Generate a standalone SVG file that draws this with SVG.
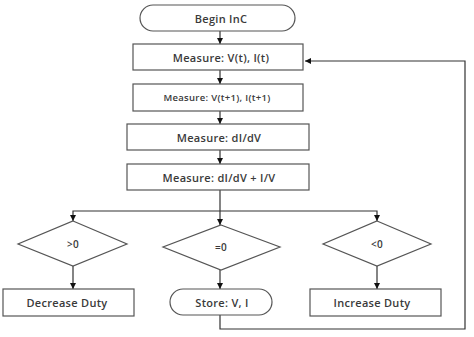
<svg xmlns="http://www.w3.org/2000/svg" width="474" height="337" viewBox="0 0 474 337">
<defs>
<marker id="ah" markerWidth="6" markerHeight="6" refX="6" refY="3" orient="auto" markerUnits="userSpaceOnUse">
<path d="M0,0 L6,3 L0,6 Z" fill="#111"/>
</marker>
<style>
.shape{fill:#fff;stroke:#555;stroke-width:1.2}
.t{font-family:"Open Sans","Liberation Sans",sans-serif;font-weight:600;fill:#3a3a3a;text-anchor:middle;dominant-baseline:central;letter-spacing:0.3px}
.c{fill:none;stroke:#333;stroke-width:1.2}
</style>
</defs>
<rect width="474" height="337" fill="#fff"/>
<g id="connectors">
<path class="c" d="M220,31 V44" marker-end="url(#ah)"/>
<path class="c" d="M220,70 V84" marker-end="url(#ah)"/>
<path class="c" d="M220,111 V124" marker-end="url(#ah)"/>
<path class="c" d="M220,150 V164" marker-end="url(#ah)"/>
<path class="c" d="M220,190 V225" marker-end="url(#ah)"/>
<path class="c" d="M220,211 H73 V221" marker-end="url(#ah)"/>
<path class="c" d="M220,211 H377 V221" marker-end="url(#ah)"/>
<path class="c" d="M73,266 V289" marker-end="url(#ah)"/>
<path class="c" d="M220,270 V289" marker-end="url(#ah)"/>
<path class="c" d="M377,266 V289" marker-end="url(#ah)"/>
<path class="c" d="M220,315 V329 H465 V61 H305" marker-end="url(#ah)"/>
</g>
<g id="begin">
<rect class="shape" x="140" y="5" width="155" height="26" rx="13"/>
<text class="t" x="221" y="18" font-size="11">Begin InC</text>
</g>
<g id="measure1">
<rect class="shape" x="133" y="44" width="170" height="26"/>
<text class="t" x="221" y="57" font-size="11">Measure: V(t), I(t)</text>
</g>
<g id="measure2">
<rect class="shape" x="133" y="84" width="170" height="27"/>
<text class="t" x="217" y="97.5" font-size="9.5">Measure: V(t+1), I(t+1)</text>
</g>
<g id="measure3">
<rect class="shape" x="127" y="124" width="182" height="26"/>
<text class="t" x="219" y="137" font-size="11">Measure: dI/dV</text>
</g>
<g id="measure4">
<rect class="shape" x="127" y="164" width="182" height="26"/>
<text class="t" x="219" y="177" font-size="11">Measure: dI/dV + I/V</text>
</g>
<g id="dec-gt">
<polygon class="shape" points="73,221 127,244 73,266 18,244"/>
<text class="t" x="73" y="244" font-size="10">&gt;0</text>
</g>
<g id="dec-eq">
<polygon class="shape" points="221,225 280,247 221,270 163,247"/>
<text class="t" x="221" y="247" font-size="10">=0</text>
</g>
<g id="dec-lt">
<polygon class="shape" points="377,221 431,244 377,266 323,244"/>
<text class="t" x="377" y="244" font-size="10">&lt;0</text>
</g>
<g id="decrease">
<rect class="shape" x="3" y="289" width="131" height="27"/>
<text class="t" x="67" y="302.5" font-size="11">Decrease Duty</text>
</g>
<g id="store">
<rect class="shape" x="170" y="289" width="102" height="26" rx="13"/>
<text class="t" x="222" y="302" font-size="11">Store: V, I</text>
</g>
<g id="increase">
<rect class="shape" x="310" y="289" width="131" height="27"/>
<text class="t" x="372" y="302.5" font-size="11">Increase Duty</text>
</g>
</svg>
